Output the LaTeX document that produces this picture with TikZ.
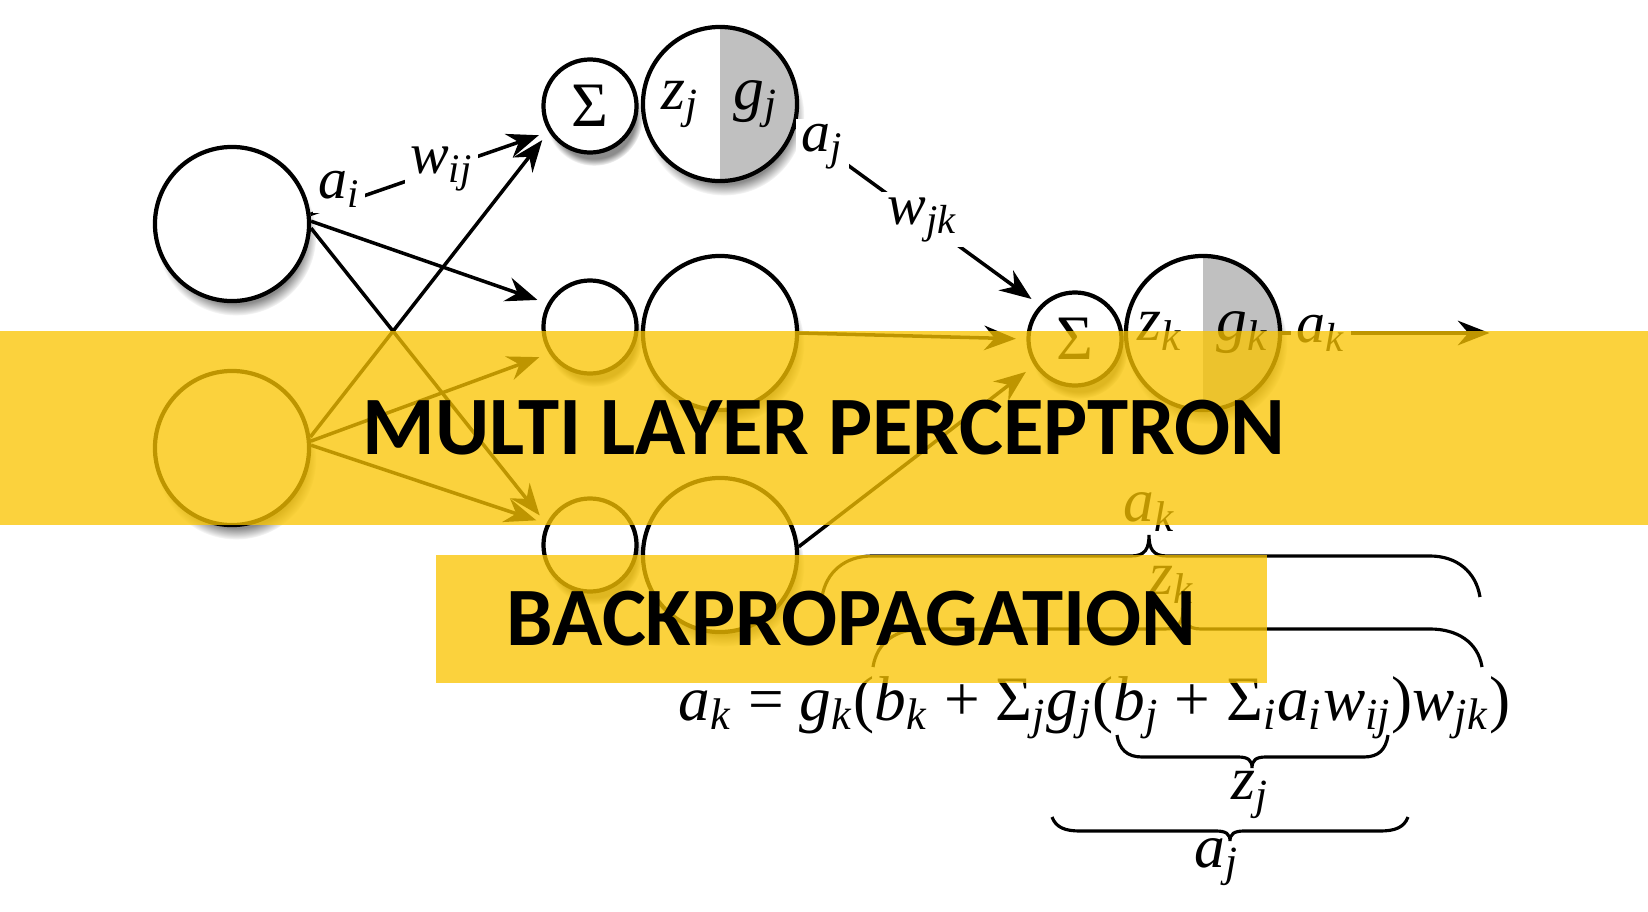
\documentclass[tikz,border=0pt]{standalone}
\usepackage{fontspec}
\setmainfont{Liberation Serif}
\newfontfamily\bandfont{Carlito}
\usetikzlibrary{arrows.meta,shadows}
\definecolor{bandyellow}{RGB}{250,197,0}
\definecolor{halfgray}{RGB}{192,192,192}
\newcommand{\vsub}[2]{\textit{#1}\textsubscript{\textit{#2}}}
\tikzset{
    unit/.style={circle,draw,line width=1.2pt,fill=white,minimum size=15.4mm,inner sep=0pt,
        circular drop shadow={shadow xshift=0.4mm,shadow yshift=-1.1mm,shadow scale=1.04,opacity=0.9}},
    sumunit/.style={unit,minimum size=9.3mm,font=\fontsize{18}{20}\selectfont},
    actunit/.style={unit,font=\fontsize{17.5}{20}\selectfont},
    graypart/.style={path picture={\fill[halfgray] (path picture bounding box.north) rectangle (path picture bounding box.south east);}},
    lab/.style={fill=white,inner sep=1.5pt,font=\fontsize{16.5}{19}\selectfont},
    bracelab/.style={inner sep=1pt,font=\fontsize{17.5}{20}\selectfont},
    brace/.style={line width=0.9pt},
    arrow/.style={-{Stealth[length=9pt,width=7pt,inset=3pt]},line width=1pt,shorten >=3pt},
    band/.style={fill=bandyellow,fill opacity=0.76,text opacity=1,inner sep=0pt,font=\bandfont\bfseries\fontsize{23.6}{28}\selectfont}
}
\begin{document}
\begin{tikzpicture}[x=0.01cm,y=-0.01cm]
    \useasboundingbox[fill=white] (0,0) rectangle (1648,912);
    % input layer
    \node[unit] (in1) at (232,224) {};
    \node[unit] (in2) at (232,448) {};
    % hidden layer
    \node[sumunit] (st) at (590,106) {Σ};
    \node[actunit,graypart] (gt) at (720,104) {\vsub{z}{j}\hspace{0.55em}\vsub{g}{j}};
    \node[sumunit] (sm) at (590,327) {};
    \node[unit] (gm) at (720,333) {};
    \node[sumunit] (sb) at (590,545) {};
    \node[unit] (gb) at (720,555) {};
    % output unit
    \node[sumunit] (so) at (1075,339) {Σ};
    \node[actunit,graypart] (gk) at (1203,333) {\vsub{z}{k}\hspace{0.55em}\vsub{g}{k}};
    \coordinate (out) at (1500,333);
    % weights
    \draw[arrow] (in1.7) -- node[lab,pos=0.12,yshift=1.5mm] (lai) {\vsub{a}{i}}
        node[lab,pos=0.55] (lwij) {\vsub{w}{ij}} (st.212);
    \draw[arrow] (in1.2) -- (sm.151);
    \draw[arrow] (in1.-3) -- (sb.154);
    \draw[arrow] (in2.8) -- (st.212);
    \draw[arrow] (in2.5) -- (sm.213);
    \draw[arrow] (in2.2) -- (sb.154);
    \draw[arrow] (gt.-17) -- node[lab,pos=0.11] (laj) {\vsub{a}{j}}
        node[lab,pos=0.52] (lwjk) {\vsub{w}{jk}} (so.136);
    \draw[arrow] (gm.east) -- (so.west);
    \draw[arrow] (gb.6) -- (so.213);
    \draw[arrow] (gk.east) -- node[lab,pos=0.18] (lak) {\vsub{a}{k}} (out);
    % formula and braces
    \node[anchor=base west,inner sep=0pt,font=\fontsize{18}{21}\selectfont] (eq) at (678,720)
        {\vsub{a}{k} = \vsub{g}{k}(\vsub{b}{k} + Σ\textsubscript{\textit{j}}\vsub{g}{j}(\vsub{b}{j} + Σ\textsubscript{\textit{i}}\vsub{a}{i}\vsub{w}{ij})\vsub{w}{jk})};
    \draw[brace] (822,597) .. controls (826,572) and (845,556) .. (872,556) -- (1131,556)
        .. controls (1145,556) and (1149,549) .. (1149,535) .. controls (1149,549) and (1153,556) .. (1167,556)
        -- (1430,556) .. controls (1457,556) and (1476,572) .. (1480,597);
    \node[bracelab] (bak) at (1150,512) {\vsub{a}{k}};
    \draw[brace] (873,667) .. controls (877,642) and (896,629) .. (923,629) -- (1165,629)
        .. controls (1179,629) and (1183,622) .. (1183,608) .. controls (1183,622) and (1187,629) .. (1201,629)
        -- (1430,629) .. controls (1457,629) and (1478,642) .. (1482,667);
    \node[bracelab] (bzk) at (1172,585) {\vsub{z}{k}};
    \draw[brace] (1117,735) .. controls (1119,749) and (1127,757) .. (1142,757) -- (1238,757)
        .. controls (1248,757) and (1252,760) .. (1252,768) .. controls (1252,760) and (1256,757) .. (1266,757)
        -- (1364,757) .. controls (1379,757) and (1386,749) .. (1388,735);
    \node[bracelab] (bzj) at (1250,795) {\vsub{z}{j}};
    \draw[brace] (1052,817) .. controls (1056,828) and (1066,831) .. (1080,831) -- (1216,831)
        .. controls (1226,831) and (1230,834) .. (1230,841) .. controls (1230,834) and (1234,831) .. (1244,831)
        -- (1380,831) .. controls (1394,831) and (1404,828) .. (1408,817);
    \node[bracelab] (baj) at (1217,862) {\vsub{a}{j}};
    % title bands
    \node[band,minimum width=16.48cm,minimum height=1.94cm] (mlp) at (824,428) {MULTI LAYER PERCEPTRON};
    \node[band,minimum width=8.31cm,minimum height=1.28cm] (bp) at (851.5,619) {BACKPROPAGATION};
\end{tikzpicture}
\end{document}
